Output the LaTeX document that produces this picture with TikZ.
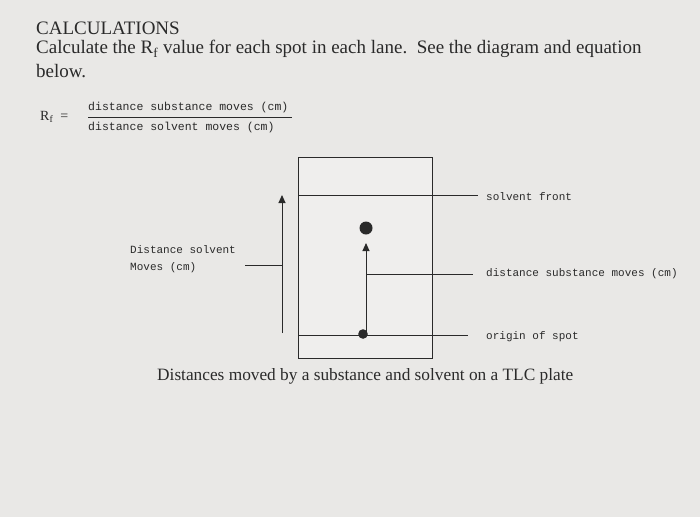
\documentclass[tikz,border=0pt]{standalone}
\usepackage{fontspec}
\setmainfont{Liberation Serif}
\newfontfamily\lbl{Liberation Mono}
\usetikzlibrary{arrows.meta}
\definecolor{paper}{HTML}{E9E8E6}
\definecolor{ink}{HTML}{2A2A2A}
\begin{document}
\begin{tikzpicture}[x=1pt,y=-1pt,
  ln/.style={draw=ink,line width=1pt},
  arr/.style={ln,-{Triangle[length=8pt,width=7pt]}},
  lab/.style={anchor=west,inner sep=0pt,font=\lbl\fontsize{11}{13}\selectfont,text=ink},
  ttl/.style={anchor=west,inner sep=0pt,font=\fontsize{19}{22}\selectfont,text=ink}]
\fill[paper] (0,0) rectangle (700,517);
\useasboundingbox (0,0) rectangle (700,517);
\node[ttl] (t1) at (36,28) {CALCULATIONS};
\node[ttl] (t2) at (36,49) {Calculate the R\textsubscript{f} value for each spot in each lane.\ \ See the diagram and equation};
\node[ttl] (t3) at (36,71) {below.};
\node[lab,font=\fontsize{14}{15}\selectfont] (rf) at (40,117) {R\textsubscript{f}\ \ =};
\node[lab,font=\lbl\fontsize{11.5}{13}\selectfont] (num) at (88,108) {distance substance moves (cm)};
\node[lab,font=\lbl\fontsize{11.5}{13}\selectfont] (den) at (88,128) {distance solvent moves (cm)};
\draw[ln,line width=0.8pt] (88,117.5) -- (292,117.5);
\draw[ln,fill=black!4,fill opacity=0.5] (298,157) rectangle (432,358);
\coordinate (sf1) at (298,195); \coordinate (sf2) at (478,195);
\draw[ln] (sf1) -- (sf2);
\coordinate (og1) at (298,335); \coordinate (og2) at (468,335);
\draw[ln] (og1) -- (og2);
\coordinate (la1) at (282,333); \coordinate (la2) at (282,195);
\draw[arr] (la1) -- (la2);
\coordinate (tk1) at (245,265); \coordinate (tk2) at (282,265);
\draw[ln] (tk1) -- (tk2);
\coordinate (sa1) at (366,333); \coordinate (sa2) at (366,243);
\draw[arr] (sa1) -- (sa2);
\coordinate (dm1) at (366,274); \coordinate (dm2) at (473,274);
\draw[ln] (dm1) -- (dm2);
\fill[ink] (366,228) circle (6.5);
\fill[ink] (363,334) circle (4.8);
\node[lab] (l1) at (486,197) {solvent front};
\node[lab] (l2) at (486,274) {distance substance moves (cm)};
\node[lab] (l3) at (486,337) {origin of spot};
\node[lab] (l4) at (130,250) {Distance solvent};
\node[lab] (l5) at (130,268) {Moves (cm)};
\node[anchor=west,inner sep=0pt,font=\fontsize{17.3}{19}\selectfont,text=ink] (cap) at (157,376) {Distances moved by a substance and solvent on a TLC plate};
\end{tikzpicture}
\end{document}
